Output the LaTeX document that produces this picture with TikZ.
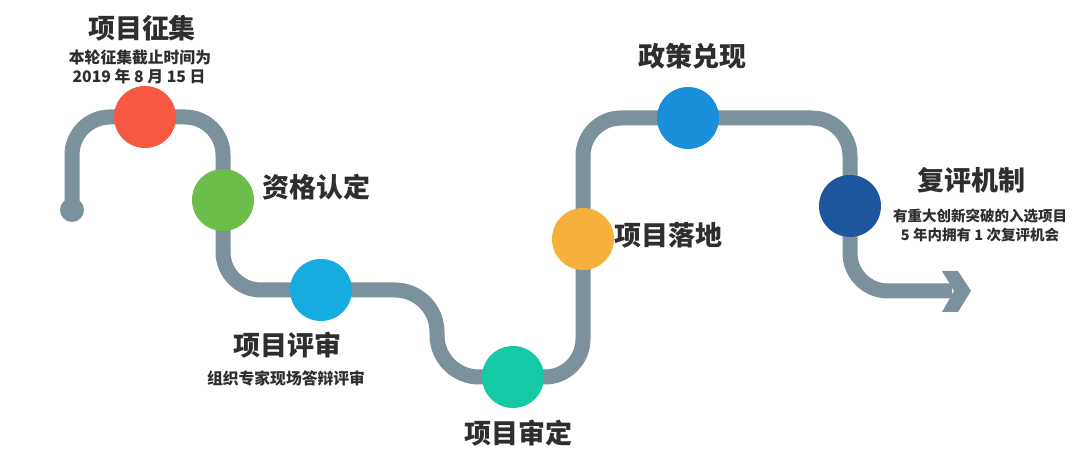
\documentclass[tikz,border=0pt]{standalone}
\usepackage{fontspec}
\setmainfont{Noto Sans CJK SC}
\definecolor{trackc}{HTML}{7B919B}
\definecolor{txt}{HTML}{2E2E2E}
\definecolor{cred}{HTML}{F65842}
\definecolor{cgreen}{HTML}{6CBE4A}
\definecolor{ccyan}{HTML}{16ACDF}
\definecolor{cteal}{HTML}{14C9A3}
\definecolor{corange}{HTML}{F7B03B}
\definecolor{cblue}{HTML}{1A8FDB}
\definecolor{cdark}{HTML}{1E579D}
\pgfdeclarelayer{bg}
\pgfsetlayers{bg,main}
\begin{document}
\begin{tikzpicture}[x=1pt,y=-1pt,
  track/.style={draw=trackc, line width=15pt, rounded corners=38pt},
  dot/.style={circle, minimum size=62pt, inner sep=0pt},
  title/.style={font=\fontsize{27}{27}\selectfont\bfseries, text=txt, inner sep=0pt},
  sub/.style={font=\fontsize{15.8}{15.8}\selectfont\bfseries, text=txt, inner sep=0pt},
  subr/.style={font=\fontsize{14.5}{14.5}\selectfont\bfseries, text=txt, inner sep=0pt}]
\useasboundingbox (0,0) rectangle (1080,470);
% stages
\node[circle, fill=trackc, minimum size=24pt, inner sep=0pt] (s) at (72,210) {};
\node[dot, fill=cred] (n1) at (145,117) {};
\node[dot, fill=cgreen] (n2) at (223,200) {};
\node[dot, fill=ccyan] (n3) at (321,290) {};
\node[dot, fill=cteal] (n4) at (513,377) {};
\node[dot, fill=corange] (n5) at (583,239) {};
\node[dot, fill=cblue] (n6) at (688,118) {};
\node[dot, fill=cdark] (n7) at (850,206) {};
\coordinate (e) at (952,291);
\coordinate (m) at (437,377);
% track
\begin{pgfonlayer}{bg}
\fill[white] (0,0) rectangle (1080,470);
\draw[track] (s.center) |- (n1.center);
\draw[track] (n1.center) -| (n2.center);
\draw[track] (n2.center) |- (n3.center);
\draw[track, rounded corners=42pt] (n3.center) -| (m) -- (n4.center);
\draw[track] (n4.center) -| (n5.center);
\draw[track] (n5.center) |- (n6.center);
\draw[track] (n6.center) -| (n7.center);
\draw[track] (n7.center) |- (e);
\end{pgfonlayer}
\fill[trackc] (942,271) -- (958,271) -- (971,291) -- (958,312) -- (942,312) -- (954,291) -- cycle;
% labels
\node[title] (t1) at (142,28) {项目征集};
\node[sub] (d1a) at (140,57) {本轮征集截止时间为};
\node[sub] (d1b) at (139,76) {2019 年 8 月 15 日};
\node[title] (t2) at (316,187) {资格认定};
\node[title] (t3) at (287,345) {项目评审};
\node[sub] (d3) at (286,378) {组织专家现场答辩评审};
\node[title] (t4) at (518,433) {项目审定};
\node[title] (t5) at (668,235) {项目落地};
\node[title] (t6) at (692,56) {政策兑现};
\node[title] (t7) at (971,180) {复评机制};
\node[subr] (d7a) at (980,216) {有重大创新突破的入选项目};
\node[subr] (d7b) at (980,235) {5 年内拥有 1 次复评机会};
\end{tikzpicture}
\end{document}
